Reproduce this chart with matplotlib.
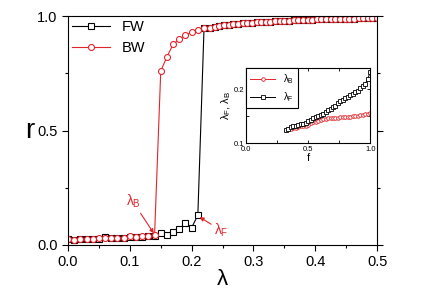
import numpy as np
import matplotlib
matplotlib.use("Agg")
import matplotlib.pyplot as plt
from matplotlib.ticker import MultipleLocator

plt.rcParams['font.family'] = ['Liberation Sans', 'DejaVu Sans']
plt.rcParams['mathtext.fontset'] = 'custom'
plt.rcParams['mathtext.rm'] = 'Liberation Sans'
plt.rcParams['mathtext.it'] = 'Liberation Sans'

RED = '#e3242b'

# ----------------------------
# Main data: order parameter r vs lambda
# ----------------------------
lam_low = np.round(np.arange(0.0, 0.215, 0.01), 3)        # 0.00 .. 0.21
lam_hi = np.round(np.arange(0.23, 0.5001, 0.0075), 4)     # plateau grid

fw_low = [0.024, 0.022, 0.024, 0.027, 0.026, 0.028, 0.033, 0.030, 0.029, 0.031,
          0.034, 0.036, 0.034, 0.038, 0.040, 0.051, 0.042, 0.057, 0.069, 0.097,
          0.076, 0.130]
bw_low = [0.026, 0.022, 0.025, 0.026, 0.028, 0.029, 0.032, 0.031, 0.029, 0.032,
          0.038, 0.035, 0.038, 0.039, 0.044]
bw_jump = [0.760, 0.822, 0.876, 0.900, 0.917, 0.929, 0.940, 0.946]   # 0.15 .. 0.22
plateau = [0.950, 0.954, 0.957, 0.960, 0.962, 0.964, 0.966, 0.968, 0.970, 0.971,
           0.973, 0.974, 0.975, 0.976, 0.977, 0.978, 0.979, 0.980, 0.981, 0.982,
           0.983, 0.983, 0.984, 0.985, 0.985, 0.986, 0.987, 0.987, 0.988, 0.988,
           0.989, 0.989, 0.990, 0.990, 0.991, 0.991, 0.992]

fw_x = list(lam_low) + [0.22] + list(lam_hi)
fw_r = fw_low + [0.946] + plateau
bw_x = list(lam_low[:15]) + [0.15, 0.16, 0.17, 0.18, 0.19, 0.20, 0.21, 0.22] + list(lam_hi)
bw_r = bw_low + bw_jump + plateau

# ----------------------------
# Inset data: lambda_F, lambda_B vs f
# ----------------------------
f_vals = np.round(np.arange(0.32, 1.0001, 0.02), 2)
lam_F = [0.125, 0.127, 0.130, 0.131, 0.132, 0.133, 0.135, 0.136, 0.138, 0.141,
         0.143, 0.146, 0.149, 0.151, 0.153, 0.155, 0.158, 0.161, 0.164, 0.167,
         0.170, 0.174, 0.178, 0.181, 0.184, 0.186, 0.189, 0.192, 0.195, 0.198,
         0.202, 0.206, 0.210, 0.220, 0.232]
lam_B = [0.124, 0.126, 0.127, 0.128, 0.129, 0.130, 0.131, 0.131, 0.132, 0.134,
         0.137, 0.139, 0.140, 0.142, 0.143, 0.144, 0.145, 0.146, 0.146, 0.147,
         0.147, 0.147, 0.148, 0.148, 0.148, 0.149, 0.149, 0.150, 0.151, 0.151,
         0.152, 0.153, 0.154, 0.155, 0.157]

# ----------------------------
# Figure
# ----------------------------
fig = plt.figure(figsize=(4.28, 2.92), dpi=100)
ax = fig.add_axes([0.159, 0.161, 0.722, 0.784])

ax.plot(fw_x, fw_r, '-', color='black', lw=0.8, marker='s', ms=3.8,
        mfc='white', mec='black', mew=0.8, label='FW')
ax.plot(bw_x, bw_r, '-', color=RED, lw=0.8, marker='o', ms=4.3,
        mfc='white', mec=RED, mew=0.8, label='BW')

ax.set_xlim(0, 0.5)
ax.set_ylim(0, 1.0)
ax.xaxis.set_major_locator(MultipleLocator(0.1))
ax.xaxis.set_minor_locator(MultipleLocator(0.05))
ax.yaxis.set_major_locator(MultipleLocator(0.5))
ax.yaxis.set_minor_locator(MultipleLocator(0.25))
ax.tick_params(which='both', direction='out', labelsize=10.5, right=True)
ax.tick_params(which='major', length=4, width=0.8)
ax.tick_params(which='minor', length=2.5, width=0.8)
ax.xaxis.set_major_formatter(matplotlib.ticker.FormatStrFormatter('%.1f'))
ax.yaxis.set_major_formatter(matplotlib.ticker.FormatStrFormatter('%.1f'))
ax.set_xlabel(r'$\lambda$', fontsize=16, labelpad=0)
ax.set_ylabel('r', fontsize=20, rotation=0, va='center')
ax.yaxis.set_label_coords(-0.125, 0.5)

ax.legend(loc='upper left', frameon=False, fontsize=10.5, handlelength=2.6,
          borderaxespad=0.0, labelspacing=0.45, borderpad=0.3)

ax.annotate(r'$\lambda_{\rm B}$', xy=(0.14, 0.046), xytext=(0.093, 0.17),
            color=RED, fontsize=10,
            arrowprops=dict(arrowstyle='-|>', color=RED, lw=0.8,
                            mutation_scale=6, shrinkA=0, shrinkB=1))
ax.annotate(r'$\lambda_{\rm F}$', xy=(0.211, 0.125), xytext=(0.236, 0.045),
            color=RED, fontsize=10,
            arrowprops=dict(arrowstyle='-|>', color=RED, lw=0.8,
                            mutation_scale=6, shrinkA=0, shrinkB=1))

# ----------------------------
# Inset
# ----------------------------
ins = fig.add_axes([0.575, 0.51, 0.29, 0.257])
ins.plot(f_vals, lam_B, '-', color=RED, lw=0.7, marker='o', ms=2.6,
         mfc='white', mec=RED, mew=0.6, label=r'$\lambda_{\rm B}$')
ins.plot(f_vals, lam_F, '-', color='black', lw=0.7, marker='s', ms=2.4,
         mfc='white', mec='black', mew=0.6, label=r'$\lambda_{\rm F}$')
ins.set_xlim(0, 1.0)
ins.set_ylim(0.1, 0.24)
ins.xaxis.set_major_locator(MultipleLocator(0.5))
ins.xaxis.set_minor_locator(MultipleLocator(0.25))
ins.yaxis.set_major_locator(MultipleLocator(0.1))
ins.yaxis.set_minor_locator(MultipleLocator(0.05))
ins.tick_params(which='both', direction='in', labelsize=5.5, top=True, right=True,
                pad=1, length=2, width=0.6)
ins.tick_params(axis='x', pad=2)
ins.xaxis.set_major_formatter(matplotlib.ticker.FormatStrFormatter('%.1f'))
ins.yaxis.set_major_formatter(matplotlib.ticker.FormatStrFormatter('%.1f'))
ins.set_xlabel('f', fontsize=8, labelpad=0)
ins.set_ylabel(r'$\lambda_{\rm F}$, $\lambda_{\rm B}$', fontsize=8, labelpad=1)
leg = ins.legend(loc='upper left', fontsize=7, handlelength=2.6,
                 borderaxespad=0, fancybox=False, framealpha=1,
                 edgecolor='black', labelspacing=0.5, borderpad=0.4)
leg.get_frame().set_linewidth(0.8)

fig.savefig('out.png', dpi=100)
